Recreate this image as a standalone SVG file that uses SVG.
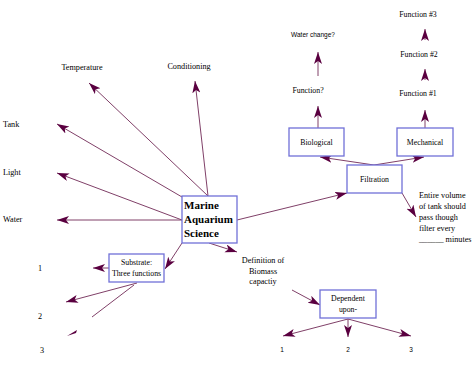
<svg xmlns="http://www.w3.org/2000/svg" width="474" height="368" viewBox="0 0 474 368">
<style>
.box{fill:#fff;stroke:#7070d8;stroke-width:1.3}
.ln{stroke:#804068;stroke-width:1;fill:none}
.t{font-family:"Liberation Serif",serif;font-size:8.2px;fill:#000}
.k{font-size:7.8px}
.c{text-anchor:middle}
.s{font-family:"Liberation Sans",sans-serif;font-size:6.5px;fill:#000}
.b{font-family:"Liberation Serif",serif;font-size:11px;font-weight:bold;fill:#000}
</style>
<defs>
<marker id="ah" markerUnits="userSpaceOnUse" markerWidth="14" markerHeight="10" refX="12" refY="4" orient="auto">
<path d="M0,0 L12,4 L0,8 L3,4 Z" fill="#5a0040"/>
</marker>
</defs>
<rect width="474" height="368" fill="#fff"/>
<g id="connectors">
<line class="ln" x1="208" y1="196" x2="89" y2="83" marker-end="url(#ah)"/>
<line class="ln" x1="208" y1="196" x2="195" y2="81" marker-end="url(#ah)"/>
<line class="ln" x1="182" y1="197" x2="57" y2="124" marker-end="url(#ah)"/>
<line class="ln" x1="182" y1="220" x2="57" y2="173" marker-end="url(#ah)"/>
<line class="ln" x1="182" y1="220" x2="57" y2="220" marker-end="url(#ah)"/>
<line class="ln" x1="182" y1="243" x2="165" y2="269" marker-end="url(#ah)"/>
<line class="ln" x1="209" y1="243" x2="237" y2="252" marker-end="url(#ah)"/>
<line class="ln" x1="237" y1="220" x2="347" y2="193" marker-end="url(#ah)"/>
<line class="ln" x1="374" y1="165" x2="320" y2="157" marker-end="url(#ah)"/>
<line class="ln" x1="374" y1="165" x2="424" y2="157" marker-end="url(#ah)"/>
<line class="ln" x1="402" y1="193" x2="416" y2="217" marker-end="url(#ah)"/>
<line class="ln" x1="318" y1="128" x2="318" y2="106" marker-end="url(#ah)"/>
<line class="ln" x1="318" y1="76" x2="318" y2="52" marker-end="url(#ah)"/>
<line class="ln" x1="425" y1="128" x2="425" y2="110" marker-end="url(#ah)"/>
<line class="ln" x1="425" y1="80" x2="425" y2="69" marker-end="url(#ah)"/>
<line class="ln" x1="425" y1="40" x2="425" y2="29" marker-end="url(#ah)"/>
<line class="ln" x1="292" y1="290" x2="320" y2="305" marker-end="url(#ah)"/>
<line class="ln" x1="348" y1="319" x2="283" y2="336" marker-end="url(#ah)"/>
<line class="ln" x1="348" y1="319" x2="348" y2="337" marker-end="url(#ah)"/>
<line class="ln" x1="348" y1="319" x2="411" y2="336" marker-end="url(#ah)"/>
<line class="ln" x1="109" y1="268" x2="93" y2="268" marker-end="url(#ah)"/>
<line class="ln" x1="137" y1="283" x2="66" y2="302" marker-end="url(#ah)"/>
<line class="ln" x1="134" y1="285" x2="92" y2="317"/>
<path d="M67,336 L77,330 L76,333 Z" fill="#5a0040"/>
</g>
<g id="marine">
<rect class="box" x="182" y="196" width="55" height="47"/>
<text class="b" x="184" y="209">Marine</text>
<text class="b" x="184" y="223">Aquarium</text>
<text class="b" x="184" y="237">Science</text>
</g>
<g id="filtration">
<rect class="box" x="347" y="165" width="55" height="28"/>
<text class="t k c" x="374.5" y="182">Filtration</text>
</g>
<g id="biological">
<rect class="box" x="289" y="128" width="55" height="28"/>
<text class="t k c" x="316.5" y="145">Biological</text>
</g>
<g id="mechanical">
<rect class="box" x="397" y="128" width="56" height="28"/>
<text class="t k c" x="425" y="145">Mechanical</text>
</g>
<g id="substrate">
<rect class="box" x="109" y="254" width="55" height="28"/>
<text class="t k c" x="136.5" y="265">Substrate:</text>
<text class="t k c" x="136.5" y="276">Three functions</text>
</g>
<g id="dependent">
<rect class="box" x="320" y="290" width="56" height="28"/>
<text class="t k c" x="348" y="301">Dependent</text>
<text class="t k c" x="348" y="312">upon-</text>
</g>
<g id="labels">
<text class="t c" x="82" y="70">Temperature</text>
<text class="t c" x="189" y="69">Conditioning</text>
<text class="t" x="3" y="127">Tank</text>
<text class="t" x="3" y="175">Light</text>
<text class="t" x="3" y="222">Water</text>
<text class="t" x="38" y="271">1</text>
<text class="t" x="38" y="319">2</text>
<text class="t" x="40" y="353">3</text>
<text class="s c" x="313" y="37">Water change?</text>
<text class="t k c" x="308" y="93">Function?</text>
<text class="t k c" x="418" y="96">Function #1</text>
<text class="t k c" x="419" y="57">Function #2</text>
<text class="t k c" x="418" y="17">Function #3</text>
<text class="t" x="419" y="198">Entire volume</text>
<text class="t" x="419" y="209">of tank should</text>
<text class="t" x="419" y="220">pass though</text>
<text class="t" x="419" y="231">filter every</text>
<text class="t" x="419" y="242">______ minutes</text>
<text class="t c" x="263" y="263">Definition of</text>
<text class="t c" x="263" y="274">Biomass</text>
<text class="t c" x="263" y="284">capactiy</text>
<text class="s c" x="282" y="352">1</text>
<text class="s c" x="348" y="352">2</text>
<text class="s c" x="411" y="352">3</text>
</g>
</svg>
